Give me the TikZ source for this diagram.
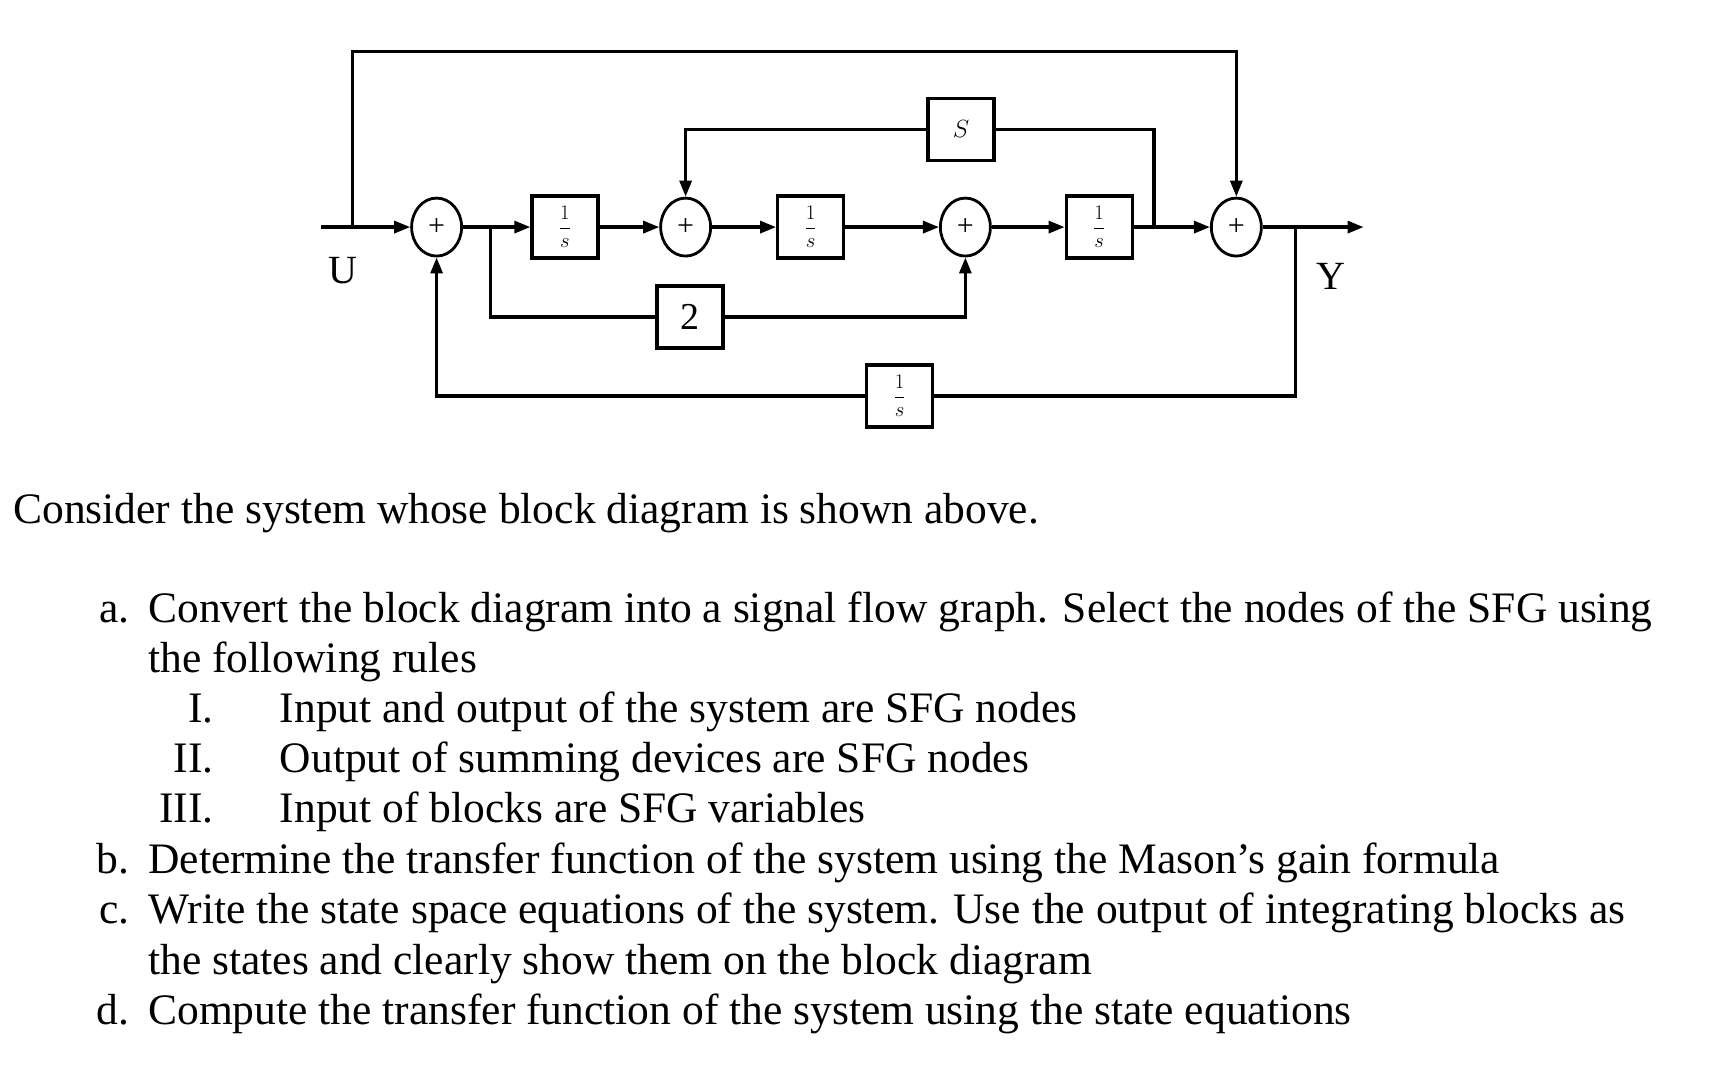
\documentclass[tikz,border=0pt]{standalone}
\usepackage{fontspec}
\setmainfont{Liberation Serif}
\usetikzlibrary{arrows.meta,shapes.geometric}
\begin{document}
\begin{tikzpicture}[x=1.097pt,y=-1.097pt,
  ln/.style={line width=3.2pt},
  ar/.style={ln,-{Triangle[length=16pt,width=12pt]}},
  sm/.style={draw,line width=2.8pt,ellipse,minimum width=50pt,minimum height=58pt,inner sep=0pt,font=\fontsize{30}{30}\selectfont},
  blk/.style={draw,line width=3.2pt,minimum width=66pt,minimum height=62pt,inner sep=0pt},
  frac/.style={font=\fontsize{22}{24}\selectfont},
  txt/.style={anchor=base west,font=\fontsize{43.5}{43.5}\selectfont,inner sep=0pt},
  num/.style={anchor=base east,font=\fontsize{43.5}{43.5}\selectfont,inner sep=0pt}]
\useasboundingbox (0,0) rectangle (1560.6,975.4);
\node[sm] (s1) at (398,207) {+};
\node[sm] (s2) at (625,207) {+};
\node[sm] (s3) at (880,207) {+};
\node[sm] (s4) at (1127,207) {+};
\node[blk,frac] (b1) at (515,207) {$\displaystyle\frac{1}{s}$};
\node[blk,frac] (b2) at (739,207) {$\displaystyle\frac{1}{s}$};
\node[blk,frac] (b3) at (1002,207) {$\displaystyle\frac{1}{s}$};
\node[blk,font=\fontsize{36}{36}\selectfont] (bs) at (876,118) {$S$};
\node[blk,font=\fontsize{38}{38}\selectfont] (b2k) at (629,289) {2};
\node[blk,frac] (bb) at (820,361) {$\displaystyle\frac{1}{s}$};
\coordinate (u) at (293,207);
\coordinate (y) at (1243,207);
\coordinate (p1) at (321,207);
\coordinate (p2) at (447,207);
\coordinate (p3) at (1052,207);
\coordinate (p4) at (1181,207);
\node[font=\fontsize{40}{40}\selectfont] (U) at (313,247) {U};
\node[font=\fontsize{40}{40}\selectfont] (Y) at (1213,252) {Y};
\draw[ar] (u) -- (s1);
\draw[ar] (s1) -- (b1);
\draw[ar] (b1) -- (s2);
\draw[ar] (s2) -- (b2);
\draw[ar] (b2) -- (s3);
\draw[ar] (s3) -- (b3);
\draw[ar] (b3) -- (s4);
\draw[ar] (s4) -- (y);
\draw[ar] (p1) |- (1127,47) -- (s4);
\draw[ln] (p3) |- (bs);
\draw[ar] (bs) -| (s2);
\draw[ln] (p2) |- (b2k);
\draw[ar] (b2k) -| (s3);
\draw[ln] (p4) |- (bb);
\draw[ar] (bb) -| (s1);
\node[txt] (t0) at (12,477) {Consider the system whose block diagram is shown above.};
\node[num] (na) at (118,567) {a.};
\node[txt] (ta) at (135,567) {Convert the block diagram into a signal flow graph. Select the nodes of the SFG using};
\node[txt] (ta2) at (135,613) {the following rules};
\node[num] (n1) at (195,659) {I.};
\node[txt] (t1) at (255,659) {Input and output of the system are SFG nodes};
\node[num] (n2) at (195,704) {II.};
\node[txt] (t2) at (255,704) {Output of summing devices are SFG nodes};
\node[num] (n3) at (195,750) {III.};
\node[txt] (t3) at (255,750) {Input of blocks are SFG variables};
\node[num] (nb) at (118,796) {b.};
\node[txt] (tb) at (135,796) {Determine the transfer function of the system using the Mason’s gain formula};
\node[num] (nc) at (118,842) {c.};
\node[txt] (tc) at (135,842) {Write the state space equations of the system. Use the output of integrating blocks as};
\node[txt] (tc2) at (135,888) {the states and clearly show them on the block diagram};
\node[num] (nd) at (118,934) {d.};
\node[txt] (td) at (135,934) {Compute the transfer function of the system using the state equations};
\end{tikzpicture}
\end{document}
